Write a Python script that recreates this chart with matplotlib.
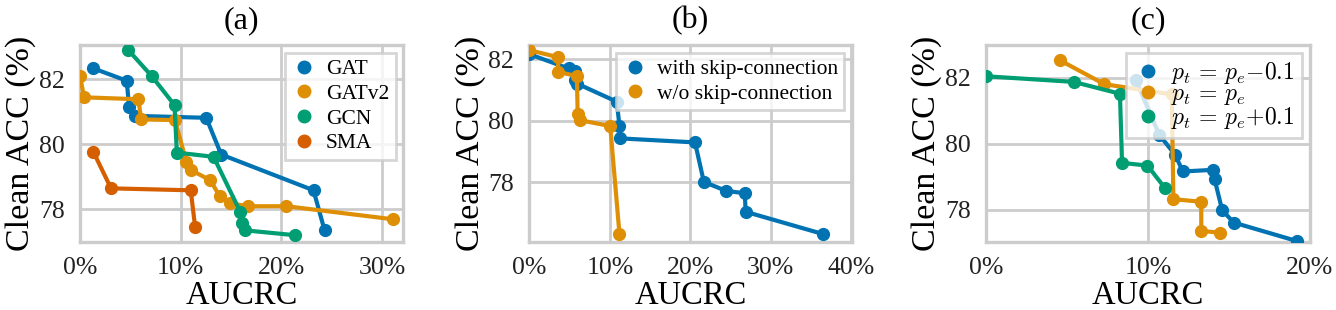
import matplotlib
matplotlib.use('Agg')
import matplotlib.pyplot as plt
from matplotlib.lines import Line2D

plt.rcParams['font.family'] = ['Liberation Serif', 'DejaVu Serif']
plt.rcParams['mathtext.fontset'] = 'cm'

# colorblind palette
c_blue, c_orange, c_green, c_red = '#0173b2', '#de8f05', '#029e73', '#d55e00'
grid_gray = '#cccccc'

# ---- panel (a): AUCRC [%] vs clean accuracy [%] per backbone
gat_x = [1.33, 4.64, 4.88, 5.47, 12.54, 14.03, 23.2, 24.3]
gat_y = [82.33, 81.95, 81.13, 80.87, 80.81, 79.68, 78.58, 77.35]
gatv2_x = [0.0, 0.4, 5.8, 6.07, 9.45, 10.55, 11.04, 12.94, 13.86, 14.86, 16.68, 20.5, 31.07]
gatv2_y = [82.09, 81.44, 81.38, 80.76, 80.74, 79.46, 79.2, 78.89, 78.41, 78.18, 78.09, 78.09, 77.69]
gcn_x = [4.81, 7.13, 9.39, 9.62, 13.27, 15.92, 16.09, 16.35, 21.32]
gcn_y = [82.89, 82.09, 81.2, 79.74, 79.61, 77.92, 77.56, 77.35, 77.2]
sma_x = [1.33, 3.08, 11.0, 11.44]
sma_y = [79.76, 78.64, 78.58, 77.44]

# ---- panel (b): skip-connection ablation
skip_x = [0.0, 4.86, 5.69, 5.69, 5.9, 10.87, 11.2, 11.3, 20.6, 21.7, 24.45, 26.8, 26.9, 36.5]
skip_y = [82.16, 81.70, 81.62, 81.32, 81.21, 80.62, 79.83, 79.43, 79.30, 78.02, 77.73, 77.65, 77.05, 76.33]
noskip_x = [0.0, 3.61, 3.53, 5.9, 6.0, 6.3, 10.05, 11.2]
noskip_y = [82.29, 82.06, 81.59, 81.45, 80.22, 80.02, 79.83, 76.33]

# ---- panel (c): p_t relative to p_e
pm_x = [9.26, 10.69, 11.67, 12.16, 14.02, 14.11, 14.58, 15.29, 19.18]
pm_y = [81.93, 80.28, 79.67, 79.16, 79.21, 78.93, 77.99, 77.61, 77.05]
p0_x = [4.55, 7.31, 11.47, 11.57, 13.29, 13.29, 14.42]
p0_y = [82.54, 81.81, 81.50, 78.32, 78.24, 77.36, 77.30]
pp_x = [0.0, 5.41, 8.27, 8.40, 9.97, 11.06]
pp_y = [82.05, 81.88, 81.52, 79.42, 79.34, 78.65]

panels = [
    {'title': '(a)', 'pos': [0.0599, 0.2194, 0.2418, 0.6355],
     'series': [(gat_x, gat_y, c_blue, 'GAT'), (gatv2_x, gatv2_y, c_orange, 'GATv2'),
                (gcn_x, gcn_y, c_green, 'GCN'), (sma_x, sma_y, c_red, 'SMA')],
     'xlim': (0, 32.1), 'ylim': (76.99, 83.05), 'xticks': [0, 10, 20, 30],
     'legsize': 15.5, 'labelspacing': 0.22},
    {'title': '(b)', 'pos': [0.3963, 0.2194, 0.2412, 0.6355],
     'series': [(skip_x, skip_y, c_blue, 'with skip-connection'),
                (noskip_x, noskip_y, c_orange, 'w/o skip-connection')],
     'xlim': (0, 40.1), 'ylim': (76.07, 82.46), 'xticks': [0, 10, 20, 30, 40],
     'legsize': 15.5, 'labelspacing': 0.22},
    {'title': '(c)', 'pos': [0.7380, 0.2194, 0.2425, 0.6355],
     'series': [(pm_x, pm_y, c_blue, r'$p_t\,=\,p_e{-}0.1$'),
                (p0_x, p0_y, c_orange, r'$p_t\,=\,p_e$'),
                (pp_x, pp_y, c_green, r'$p_t\,=\,p_e{+}0.1$')],
     'xlim': (0, 19.9), 'ylim': (77.02, 83.0), 'xticks': [0, 10, 20],
     'legsize': 17, 'labelspacing': -0.1},
]

fig = plt.figure(figsize=(13.36, 3.10), dpi=100)

for p in panels:
    ax = fig.add_axes(p['pos'])
    handles = []
    for x, y, col, lab in p['series']:
        ax.plot(x, y, '-o', color=col, lw=3.0, ms=8.5, zorder=3)
        handles.append(Line2D([], [], ls='none', marker='o', ms=9, color=col, label=lab))
    ax.set_xlim(*p['xlim'])
    ax.set_ylim(*p['ylim'])
    ax.set_xticks(p['xticks'])
    ax.set_xticklabels(['{}%'.format(t) for t in p['xticks']])
    ax.set_yticks([78, 80, 82])
    ax.grid(True, color=grid_gray, lw=2.0, zorder=0)
    ax.set_axisbelow(True)
    for s in ax.spines.values():
        s.set_color(grid_gray)
        s.set_linewidth(2.4)
    ax.tick_params(length=0, labelsize=18.5, pad=11, colors='#222222')
    ax.set_title(p['title'], fontsize=23, pad=12)
    ax.set_xlabel('AUCRC', fontsize=23.5, labelpad=1)
    ax.set_ylabel('Clean ACC (%)', fontsize=24.5, labelpad=2)
    leg = ax.legend(handles=handles, loc='upper right', fontsize=p['legsize'], frameon=True,
                    fancybox=False, framealpha=0.8, edgecolor=grid_gray,
                    handletextpad=0.4, labelspacing=p['labelspacing'],
                    borderaxespad=0.35, handlelength=1.2, borderpad=0.3)
    leg.get_frame().set_linewidth(2.0)

plt.savefig('out.png', dpi=100)
